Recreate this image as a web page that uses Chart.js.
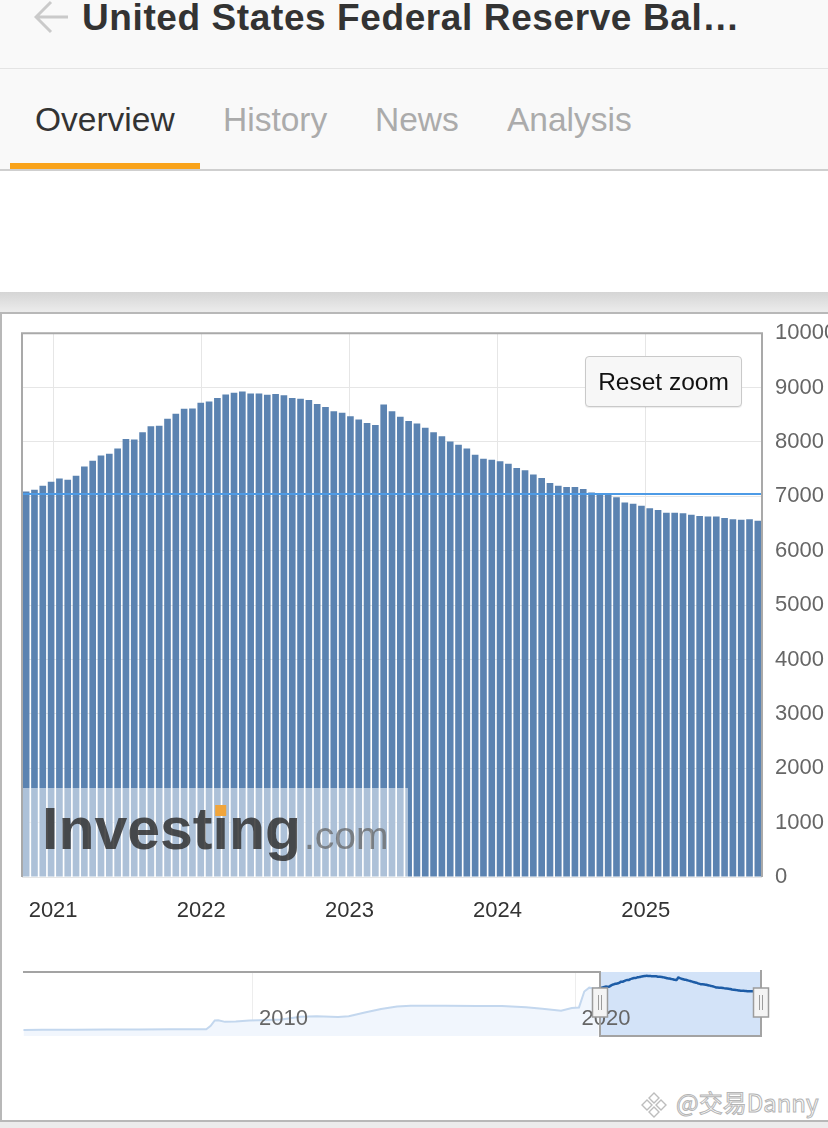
<!DOCTYPE html>
<html>
<head>
<meta charset="utf-8">
<script src="https://cdn.jsdelivr.net/npm/chart.js@4.4.1/dist/chart.umd.min.js"></script>
<style>
  body { margin: 0; width: 828px; height: 1128px; overflow: hidden; background: #fff; position: relative; font-family: "Liberation Sans", Arial, sans-serif; }
  .topbar { position: absolute; left: 0; top: 0; width: 828px; height: 68px; background: #f9f9f9; border-bottom: 1px solid #e4e4e4; }
  .back { position: absolute; left: 34px; top: 0; }
  .title { position: absolute; left: 82px; top: -1px; font-size: 37px; line-height: 37px; letter-spacing: 0.6px; font-weight: bold; color: #333; white-space: nowrap; }
  .tabs { position: absolute; left: 0; top: 69px; width: 828px; height: 100px; background: #f9f9f9; border-bottom: 2px solid #cfcfcf; }
  .tab { position: absolute; top: 34px; font-size: 33.5px; line-height: 33px; color: #ababab; }
  .tab.on { color: #333; }
  .tabline { position: absolute; left: 10px; top: 94px; width: 190px; height: 6px; background: #f9a31a; }
  .shadow { position: absolute; left: 0; top: 292px; width: 828px; height: 20px; background: linear-gradient(#d5d5d5, #ececec); }
  .box { position: absolute; left: 0; top: 312px; width: 826px; height: 806px; border-top: 2px solid #b8b8b8; border-left: 2px solid #b8b8b8; border-bottom: 2px solid #b8b8b8; background: #fff; }
  .foot { position: absolute; left: 0; top: 1122px; width: 828px; height: 6px; background: #ececec; }
  .reset { position: absolute; left: 585px; top: 356px; width: 155px; height: 49px; border: 1px solid #c9c9c9; border-radius: 4px; background: #f7f7f7; font-size: 24.5px; line-height: 50px; text-align: center; color: #111; box-shadow: 0 1px 1px rgba(0,0,0,0.08); }
  .mark { position: absolute; left: 640px; top: 1084px; white-space: nowrap; font-family: "Noto Sans CJK SC", sans-serif; font-size: 24px; color: #fff; -webkit-text-stroke: 1px #b4b4b4; }
  .mark svg { vertical-align: -7px; margin-right: 8px; }
</style>
</head>
<body>
<div class="topbar">
  <svg class="back" width="36" height="36" viewBox="0 0 36 36"><path d="M34 17 H3 M17 2 L2 17 L17 32" fill="none" stroke="#cacaca" stroke-width="3"/></svg>
  <div class="title">United States Federal Reserve Bal…</div>
</div>
<div class="tabs">
  <div class="tab on" style="left:35px">Overview</div>
  <div class="tab" style="left:223px">History</div>
  <div class="tab" style="left:375px">News</div>
  <div class="tab" style="left:507px">Analysis</div>
  <div class="tabline"></div>
</div>
<div class="shadow"></div>
<div class="box"></div>
<div class="foot"></div>
<canvas id="main" width="828" height="640" style="position:absolute;left:0;top:307px"></canvas>
<canvas id="nav" width="828" height="100" style="position:absolute;left:0;top:960px"></canvas>
<div class="reset">Reset zoom</div>
<div class="mark"><svg width="28" height="28" viewBox="0 0 28 28"><g fill="#fff" stroke="#bdbdbd" stroke-width="1.4"><path d="M14 2 L19 7 L14 12 L9 7Z"/><path d="M14 16 L19 21 L14 26 L9 21Z"/><path d="M7 9 L12 14 L7 19 L2 14Z"/><path d="M21 9 L26 14 L21 19 L16 14Z"/></g></svg>@交易Danny</div>
<script>
const dates = [
  '2020-09-30', '2020-10-21', '2020-11-11', '2020-12-02', '2020-12-23',
  '2021-01-13', '2021-02-03', '2021-02-24', '2021-03-17', '2021-04-07', '2021-04-28', '2021-05-19', '2021-06-09',
  '2021-06-30', '2021-07-21', '2021-08-11', '2021-09-01', '2021-09-22', '2021-10-13', '2021-11-03', '2021-11-24', '2021-12-15',
  '2022-01-05', '2022-01-26', '2022-02-16', '2022-03-09', '2022-03-30', '2022-04-20', '2022-05-11', '2022-06-01', '2022-06-22',
  '2022-07-13', '2022-08-03', '2022-08-24', '2022-09-14', '2022-10-05', '2022-10-26', '2022-11-16', '2022-12-07', '2022-12-28',
  '2023-01-18', '2023-02-08', '2023-03-01', '2023-03-22', '2023-04-12', '2023-05-03', '2023-05-24', '2023-06-14', '2023-07-05',
  '2023-07-26', '2023-08-16', '2023-09-06', '2023-09-27', '2023-10-18', '2023-11-08', '2023-11-29', '2023-12-20',
  '2024-01-10', '2024-01-31', '2024-02-21', '2024-03-13', '2024-04-03', '2024-04-24', '2024-05-15', '2024-06-05', '2024-06-26',
  '2024-07-17', '2024-08-07', '2024-08-28', '2024-09-18', '2024-10-09', '2024-10-30', '2024-11-20', '2024-12-11',
  '2025-01-01', '2025-01-22', '2025-02-12', '2025-03-05', '2025-03-26', '2025-04-16', '2025-05-07', '2025-05-28', '2025-06-18',
  '2025-07-09', '2025-07-30', '2025-08-20', '2025-09-10', '2025-10-01', '2025-10-22'
];
const balance = [
  7090, 7120, 7195, 7270, 7330, 7305, 7380, 7550, 7655, 7750, 7785, 7880, 8055, 8045, 8180, 8290, 8300, 8425,
  8520, 8610, 8615, 8720, 8745, 8810, 8875, 8905, 8930, 8890, 8890, 8870, 8880, 8860, 8810, 8795, 8770, 8700,
  8645, 8565, 8535, 8475, 8415, 8350, 8310, 8690, 8565, 8465, 8385, 8340, 8260, 8180, 8105, 8010, 7950,
  7880, 7765, 7690, 7675, 7645, 7600, 7520, 7480, 7400, 7335, 7245, 7195, 7170, 7170, 7135, 7070, 7060, 7030,
  6985, 6885, 6865, 6825, 6780, 6750, 6700, 6700, 6690, 6660, 6640, 6630, 6630, 6600, 6580, 6570, 6580, 6550
];
const refLevel = 7050;
const yearTicks = [2021, 2022, 2023, 2024, 2025];
const viewStart = 2020.79, viewEnd = 2025.785;

const navDates = [
  '2002-12-01', '2003-07-01', '2004-07-01', '2005-07-01', '2006-07-01', '2007-07-01', '2008-08-01', '2008-09-20',
  '2008-11-05', '2008-12-15', '2009-03-01', '2009-07-01', '2009-12-01', '2010-07-01', '2010-12-01', '2011-07-01',
  '2012-01-01', '2012-09-01', '2013-01-01', '2013-07-01', '2014-01-01', '2014-07-01', '2014-12-01', '2016-01-01',
  '2017-01-01', '2017-10-01', '2018-07-01', '2019-01-01', '2019-08-01', '2019-12-01', '2020-02-20', '2020-04-20',
  '2020-06-15', '2020-08-15', '2020-09-30'
];
const navValues = [
  900, 910, 930, 960, 980, 1000, 1010, 1500, 2300, 2350, 2100, 2150, 2300, 2380, 2450, 2860,
  2920, 2830, 2920, 3500, 4020, 4370, 4500, 4490, 4450, 4460, 4270, 4050, 3760, 4170, 4240, 6600,
  7170, 7000, 7090
];
const navTicks = [2010, 2020];

const FONT = 'Liberation Sans';

function toYear(s) {
  const d = new Date(s + 'T00:00:00Z');
  const y = d.getUTCFullYear();
  const a = Date.UTC(y, 0, 1), b = Date.UTC(y + 1, 0, 1);
  return y + (d.getTime() - a) / (b - a);
}

const overlay = {
  id: 'overlay',
  afterDatasetsDraw(chart) {
    const { ctx, chartArea: a, scales } = chart;
    ctx.save();
    // reference line
    const ly = Math.round(scales.y.getPixelForValue(refLevel));
    ctx.strokeStyle = '#4d9be6';
    ctx.lineWidth = 2;
    ctx.beginPath();
    ctx.moveTo(a.left, ly);
    ctx.lineTo(a.right, ly);
    ctx.stroke();

    // watermark
    ctx.fillStyle = 'rgba(255,255,255,0.5)';
    ctx.fillRect(a.left, a.bottom - 89, 386, 89);
    const bx = 42, by = a.bottom - 28;
    ctx.textBaseline = 'alphabetic';
    ctx.textAlign = 'left';
    ctx.font = 'bold 59px "' + FONT + '"';
    ctx.fillStyle = 'rgba(50,50,50,0.85)';
    ctx.fillText('Investing', bx, by);
    const w = ctx.measureText('Investing').width;
    const iw = ctx.measureText('i').width;
    const ix = bx + ctx.measureText('Invest').width + iw / 2;
    ctx.fillStyle = '#f0a53c';
    ctx.fillRect(ix - 5.5, by - 44, 11, 11);
    ctx.font = '39px "' + FONT + '"';
    ctx.fillStyle = 'rgba(95,95,95,0.7)';
    ctx.fillText('.com', bx + w + 3, by);

    // frame
    ctx.strokeStyle = '#a9a9a9';
    ctx.lineWidth = 2;
    ctx.beginPath();
    ctx.moveTo(a.left, a.bottom);
    ctx.lineTo(a.left, a.top);
    ctx.lineTo(a.right, a.top);
    ctx.lineTo(a.right, a.bottom);
    ctx.stroke();
    ctx.restore();
  }
};

new Chart(document.getElementById('main'), {
  type: 'bar',
  data: {
    labels: dates,
    datasets: [{
      data: balance,
      backgroundColor: '#5b83b1',
      categoryPercentage: 1,
      barPercentage: 0.8
    }]
  },
  options: {
    responsive: false,
    animation: false,
    layout: { padding: { left: 22, top: 14 } },
    plugins: { legend: { display: false }, tooltip: { enabled: false } },
    scales: {
      x: { display: false },
      yr: {
        type: 'linear',
        axis: 'x',
        position: 'bottom',
        offset: false,
        min: viewStart,
        max: viewEnd,
        afterBuildTicks: s => { s.ticks = yearTicks.map(v => ({ value: v })); },
        afterFit: s => { s.height = 70; },
        grid: { color: '#e6e6e6', drawTicks: false, offset: false },
        border: { display: false },
        ticks: { padding: 21, color: '#333', font: { size: 22, family: FONT }, callback: v => String(v), autoSkip: false, maxRotation: 0 }
      },
      y: {
        position: 'right',
        min: 0,
        max: 10000,
        afterFit: s => { s.width = 66; },
        grid: { color: '#e6e6e6', drawTicks: false },
        border: { display: false },
        ticks: { stepSize: 1000, padding: 13, color: '#666', font: { size: 22, family: FONT }, callback: v => String(v) }
      }
    }
  },
  plugins: [overlay]
});

const navDecor = {
  id: 'navDecor',
  beforeDatasetsDraw(chart) {
    const { ctx, chartArea: a, scales: { x } } = chart;
    ctx.save();
    ctx.strokeStyle = '#ededed';
    ctx.lineWidth = 1;
    navTicks.forEach(t => {
      const px = Math.round(x.getPixelForValue(t)) + 0.5;
      ctx.beginPath();
      ctx.moveTo(px, a.top);
      ctx.lineTo(px, a.bottom);
      ctx.stroke();
    });
    const sx = x.getPixelForValue(viewStart), ex = x.getPixelForValue(viewEnd);
    ctx.fillStyle = '#d3e3f8';
    ctx.fillRect(sx, a.top, ex - sx, a.bottom - a.top);
    ctx.restore();
  },
  afterDatasetsDraw(chart) {
    const { ctx, chartArea: a, scales: { x } } = chart;
    ctx.save();
    ctx.font = '22px "' + FONT + '"';
    ctx.fillStyle = '#666';
    ctx.textBaseline = 'middle';
    navTicks.forEach(t => ctx.fillText(String(t), x.getPixelForValue(t) + 7, a.bottom - 17));

    const sx = Math.round(x.getPixelForValue(viewStart)), ex = Math.round(x.getPixelForValue(viewEnd));
    ctx.strokeStyle = '#a3a3a3';
    ctx.lineWidth = 2;
    ctx.beginPath();
    ctx.moveTo(a.left, a.top);
    ctx.lineTo(sx, a.top);
    ctx.lineTo(sx, a.bottom);
    ctx.lineTo(ex, a.bottom);
    ctx.lineTo(ex, a.top - 2);
    ctx.stroke();

    [sx, ex].forEach(cx => {
      const top = a.top + 16;
      ctx.fillStyle = '#f4f4f4';
      ctx.strokeStyle = '#9c9c9c';
      ctx.lineWidth = 1.5;
      ctx.fillRect(cx - 7.5, top, 15, 29);
      ctx.strokeRect(cx - 7.5, top, 15, 29);
      ctx.lineWidth = 1;
      ctx.beginPath();
      ctx.moveTo(cx - 1.5, top + 7); ctx.lineTo(cx - 1.5, top + 22);
      ctx.moveTo(cx + 1.5, top + 7); ctx.lineTo(cx + 1.5, top + 22);
      ctx.stroke();
    });
    ctx.restore();
  }
};

new Chart(document.getElementById('nav'), {
  type: 'line',
  data: {
    datasets: [
      {
        data: navDates.map((d, i) => ({ x: toYear(d), y: navValues[i] })),
        borderColor: '#c3d7ee',
        backgroundColor: '#f1f6fd',
        borderWidth: 2,
        fill: 'origin',
        pointRadius: 0,
        tension: 0
      },
      {
        data: dates.map((d, i) => ({ x: toYear(d), y: balance[i] })),
        borderColor: '#1d5ca6',
        borderWidth: 2.5,
        fill: false,
        pointRadius: 0,
        tension: 0.2
      }
    ]
  },
  options: {
    responsive: false,
    animation: false,
    layout: { padding: { left: 23, right: 66, top: 12, bottom: 24 } },
    plugins: { legend: { display: false }, tooltip: { enabled: false } },
    scales: {
      x: { type: 'linear', display: false, min: 2002.9, max: 2025.81 },
      y: { display: false, min: 0, max: 9500 }
    }
  },
  plugins: [navDecor]
});
</script>
</body>
</html>
